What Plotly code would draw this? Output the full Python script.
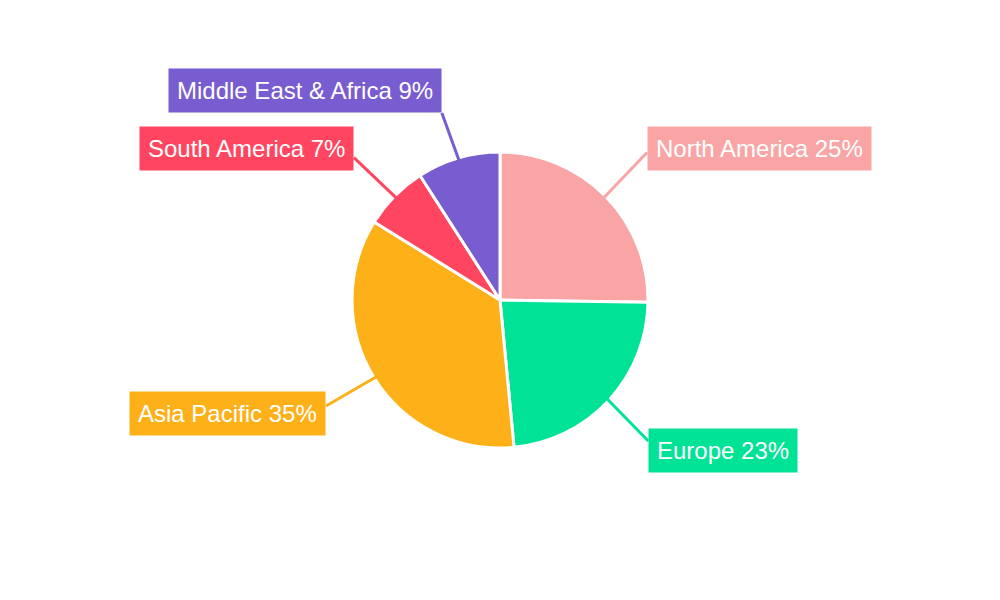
import numpy as np
import plotly.graph_objects as go

regions = ["North America", "Europe", "Asia Pacific", "South America", "Middle East & Africa"]
shares = [25, 23, 35, 7, 9]
colors = ["#F9A5A6", "#00E396", "#FEB019", "#FF4560", "#775DD0"]

# leader line end (px offset from the slice edge) and how the label box hangs off it
leaders = [(43, -45), (41, 42), (-50, 29), (-42, -40), (-17, -47)]
anchors = [("left", "middle", 0, 4), ("left", "middle", 0, -9), ("right", "middle", 0, -8),
           ("right", "middle", 0, 9), ("right", "bottom", 0, 0)]

W, H = 1000, 600
# page body has an 8px margin, so the pie centre sits at (492, 292) in figure px
cx, cy, r = 492, 292, 148

fig = go.Figure(go.Pie(
    labels=regions, values=shares, sort=False, direction="clockwise", rotation=0,
    marker=dict(colors=colors, line=dict(color="white", width=3)),
    textinfo="none", hoverinfo="label+percent",
    domain=dict(x=[0, 2 * cx / W], y=[1 - (cy + r) / H, 1 - (cy - r) / H]),
))

total = sum(shares)
cum = np.cumsum([0] + shares)
for i, name in enumerate(regions):
    mid = (cum[i] + shares[i] / 2) / total * 2 * np.pi
    px = cx + (r - 2) * np.sin(mid)
    py = cy - (r - 2) * np.cos(mid)
    ex, ey = px + leaders[i][0], py + leaders[i][1]
    fig.add_shape(type="line", xref="paper", yref="paper",
                  x0=px / W, y0=1 - py / H, x1=ex / W, y1=1 - ey / H,
                  line=dict(color=colors[i], width=3))
    xa, ya, dx, dy = anchors[i]
    fig.add_annotation(
        x=ex / W, y=1 - ey / H, xref="paper", yref="paper",
        xanchor=xa, yanchor=ya, xshift=dx, yshift=dy,
        text=f"{name} {round(shares[i] / total * 100)}%",
        showarrow=False, bgcolor=colors[i], borderpad=8,
        font=dict(family="Liberation Sans, Arial", size=24, color="white"),
    )

fig.update_layout(width=W, height=H, margin=dict(l=0, r=0, t=0, b=0),
                  showlegend=False, paper_bgcolor="white")
fig.write_html("out.html")
